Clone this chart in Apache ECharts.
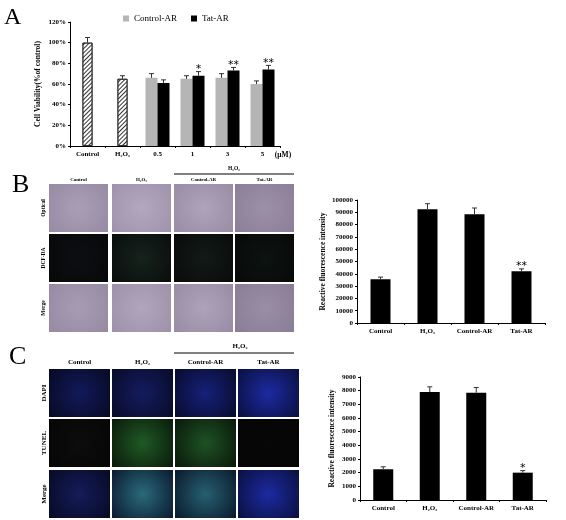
<!DOCTYPE html>
<html><head><meta charset="utf-8">
<script src="https://cdn.jsdelivr.net/npm/echarts@6/dist/echarts.min.js"></script>
<style>html,body{margin:0;padding:0;background:#fff}#c{width:566px;height:520px}</style>
</head><body><div id="c"></div>
<script>
// Panel A
const aCats = ['Control', 'H₂O₂', '0.5', '1', '3', '5'];
const aHatch = [100, 65, null, null, null, null];
const aHatchErr = [5, 3, null, null, null, null];
const aCtrlAR = [null, null, 66, 65, 66, 60];
const aCtrlARErr = [null, null, 4, 3, 4, 3];
const aTatAR = [null, null, 61, 68, 73, 74];
const aTatARErr = [null, null, 3, 4, 3, 4];
const aTatStars = ['', '', '', '*', '**', '**'];
const aTicks = [0, 20, 40, 60, 80, 100, 120];
// Panel B
const bCats = ['Control', 'H₂O₂', 'Control-AR', 'Tat-AR'];
const bVals = [35500, 92500, 88500, 42000];
const bErr = [1800, 4500, 5000, 2000];
const bStars = ['', '', '', '**'];
// Panel C
const cCats = ['Control', 'H₂O₂', 'Control-AR', 'Tat-AR'];
const cVals = [2250, 7900, 7850, 2000];
const cErr = [180, 380, 380, 150];
const cStars = ['', '', '', '*'];

const F = 'Liberation Serif';
const ch = echarts.init(document.getElementById('c'));

function errSeries(xi, yi, vals, errs, off, stars) {
  return {
    type: 'custom', xAxisIndex: xi, yAxisIndex: yi, z: 5,
    data: vals.map((v, i) => [i, v, errs[i], stars ? stars[i] : '']).filter(d => d[1] != null),
    renderItem: function (p, api) {
      const x = api.coord([api.value(0), api.value(1)])[0] + off;
      const y0 = api.coord([api.value(0), api.value(1)])[1];
      const y1 = api.coord([api.value(0), api.value(1) + api.value(2)])[1];
      const st = { stroke: '#333', lineWidth: 1 };
      const ch = [
        { type: 'line', shape: { x1: x, y1: y0, x2: x, y2: y1 }, style: st },
        { type: 'line', shape: { x1: x - 2.5, y1: y1, x2: x + 2.5, y2: y1 }, style: st }
      ];
      const s = api.value(3);
      if (s) ch.push({ type: 'text', style: { text: s, x: x, y: y1 + 3, align: 'center', verticalAlign: 'bottom', font: '11px "DejaVu Sans"', fill: '#000' } });
      return { type: 'group', children: ch };
    }
  };
}

const axLab = { fontFamily: F, fontSize: 7, fontWeight: 'bold', color: '#000' };
const axLine = { show: true, lineStyle: { color: '#000', width: 1 } };
function catAx(gi, cats, show) {
  return { type: 'category', gridIndex: gi, data: cats, show: show !== false, axisLine: axLine,
    axisTick: { show: true, alignWithLabel: false, length: 2, lineStyle: { color: '#000' } },
    axisLabel: Object.assign({ margin: 5, interval: 0 }, axLab) };
}
function valAx(gi, max, interval, name, fmt, nameGap) {
  return { type: 'value', gridIndex: gi, min: 0, max: max, interval: interval,
    name: name, nameLocation: 'middle', nameGap: nameGap, nameRotate: 90,
    nameTextStyle: { fontFamily: F, fontSize: 7.5, fontWeight: 'bold', color: '#000' },
    axisLine: axLine, axisTick: { show: true, length: 2, lineStyle: { color: '#000' } },
    splitLine: { show: false }, axisLabel: Object.assign({ formatter: fmt, margin: 4 }, axLab) };
}

// Micrograph placeholders
const gfx = [];
function cell(x, y, w, h, c1, c2) {
  gfx.push({ type: 'rect', shape: { x: x, y: y, width: w, height: h },
    style: { fill: new echarts.graphic.RadialGradient(0.5, 0.5, 0.8, [{ offset: 0, color: c1 }, { offset: 1, color: c2 }]) } });
}
function txt(x, y, t, size, opt) {
  gfx.push(Object.assign({ type: 'text', x: x, y: y, style: Object.assign({ text: t, font: 'bold ' + size + 'px ' + F, fill: '#000', align: 'center', verticalAlign: 'middle' }, opt && opt.style || {}) }, opt && opt.extra || {}));
}
const colsB = [49, 112, 174, 235], wB = 59;
const rowsB = [184, 234, 284], hB = 48;
const bCol = [
  [['#a99fb5', '#978aa3'], ['#b2a7bd', '#9f93ac'], ['#aea3b9', '#998ca6'], ['#9c90a8', '#8b7f98']],
  [['#0c0e12', '#070809'], ['#15221c', '#0a0d0c'], ['#121a16', '#090b0a'], ['#0d1310', '#070908']],
  [['#a69cb2', '#958aa2'], ['#b0a5bb', '#9d91aa'], ['#ada2b8', '#988ca5'], ['#998ea6', '#897d96']]
];
rowsB.forEach((y, r) => colsB.forEach((x, c) => cell(x, y, wB, hB, bCol[r][c][0], bCol[r][c][1])));
const colsC = [49, 112, 175, 238], wC = 61;
const rowsC = [369, 419, 470], hC = 48;
const cCol = [
  [['#12195a', '#070a24'], ['#141c60', '#080b28'], ['#16207a', '#080c2c'], ['#1c2aa0', '#0a1040']],
  [['#0b0c0b', '#050605'], ['#1f5a24', '#0a1a0b'], ['#1e5224', '#0a180b'], ['#060706', '#040504']],
  [['#151c5a', '#070a24'], ['#2a6a7a', '#0b1a30'], ['#266070', '#0a1a2c'], ['#1c2aa0', '#0a1040']]
];
rowsC.forEach((y, r) => colsC.forEach((x, c) => cell(x, y, wC, hC, cCol[r][c][0], cCol[r][c][1])));

// Labels
gfx.push({ type: 'text', x: 4, y: 6, style: { text: 'A', font: '24px ' + F, fill: '#000' } });
gfx.push({ type: 'text', x: 12, y: 172, style: { text: 'B', font: '26px ' + F, fill: '#000' } });
gfx.push({ type: 'text', x: 9, y: 344, style: { text: 'C', font: '26px ' + F, fill: '#000' } });
['Control', 'H₂O₂', 'Control-AR', 'Tat-AR'].forEach((t, i) => txt(colsB[i] + wB / 2, 180, t, 5));
gfx.push({ type: 'line', shape: { x1: 174, y1: 174, x2: 294, y2: 174 }, style: { stroke: '#000', lineWidth: 1 } });
txt(234, 169, 'H₂O₂', 5.5);
['Optical', 'DCF-DA', 'Merge'].forEach((t, i) => txt(44, rowsB[i] + hB / 2, t, 5.5, { extra: { rotation: Math.PI / 2 } }));
['Control', 'H₂O₂', 'Control-AR', 'Tat-AR'].forEach((t, i) => txt(colsC[i] + wC / 2, 362, t, 7));
gfx.push({ type: 'line', shape: { x1: 174, y1: 353, x2: 294, y2: 353 }, style: { stroke: '#000', lineWidth: 1 } });
txt(240, 346, 'H₂O₂', 7);
['DAPI', 'TUNEL', 'Merge'].forEach((t, i) => txt(44, rowsC[i] + hC / 2, t, 7, { extra: { rotation: Math.PI / 2 } }));
txt(283, 155, '(μM)', 7.5, { style: { font: 'bold 7.5px ' + F } });

ch.setOption({
  animation: false,
  textStyle: { fontFamily: F },
  legend: { top: 9, left: 118, itemWidth: 6, itemHeight: 6, itemGap: 14, icon: 'rect', data: ['Control-AR', 'Tat-AR'],
    textStyle: { fontFamily: F, fontSize: 9, color: '#000' } },
  grid: [
    { left: 70, top: 22, width: 210, height: 124 },
    { left: 357, top: 200, width: 188, height: 123 },
    { left: 360, top: 377, width: 186, height: 123 }
  ],
  xAxis: [catAx(0, aCats), catAx(0, aCats, false), catAx(1, bCats), catAx(2, cCats)],
  yAxis: [
    valAx(0, 120, 20, 'Cell Viability(%of control)', v => v + '%', 28),
    valAx(1, 100000, 10000, 'Reactive fluorescence intensity', v => String(v), 30),
    valAx(2, 9000, 1000, 'Reactive fluorescence intensity', v => String(v), 24)
  ],
  series: [
    { type: 'bar', name: 'hatch', xAxisIndex: 1, yAxisIndex: 0, data: aHatch, barWidth: 10,
      itemStyle: { color: '#fff', borderColor: '#222', borderWidth: 0.8,
        decal: { symbol: 'rect', color: '#333', dashArrayX: [1, 0], dashArrayY: [1, 1.5], rotation: -Math.PI / 4, symbolSize: 1 } } },
    { type: 'bar', name: 'Control-AR', xAxisIndex: 0, yAxisIndex: 0, data: aCtrlAR, barWidth: 12, barGap: '0%', itemStyle: { color: '#b5b5b5' } },
    { type: 'bar', name: 'Tat-AR', xAxisIndex: 0, yAxisIndex: 0, data: aTatAR, barWidth: 12, barGap: '0%', itemStyle: { color: '#000' } },
    errSeries(1, 0, aHatch, aHatchErr, 0),
    errSeries(0, 0, aCtrlAR, aCtrlARErr, -6),
    errSeries(0, 0, aTatAR, aTatARErr, 6, aTatStars),
    { type: 'bar', xAxisIndex: 2, yAxisIndex: 1, data: bVals, barWidth: 20, itemStyle: { color: '#000' } },
    errSeries(2, 1, bVals, bErr, 0, bStars),
    { type: 'bar', xAxisIndex: 3, yAxisIndex: 2, data: cVals, barWidth: 20, itemStyle: { color: '#000' } },
    errSeries(3, 2, cVals, cErr, 0, cStars)
  ],
  graphic: gfx
});
</script></body></html>
